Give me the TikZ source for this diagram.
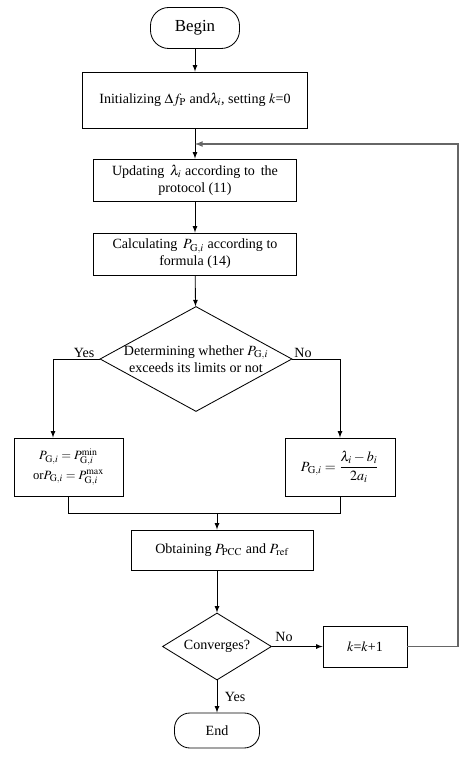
\documentclass[tikz,border=0pt]{standalone}
\usepackage{amsmath}
\usepackage{mathptmx}
\usepackage{fontspec}
\setmainfont{Liberation Serif}
\usetikzlibrary{shapes.geometric}
\usetikzlibrary{arrows}

\begin{document}
\begin{tikzpicture}[x=0.025cm, y=-0.025cm, line width=0.6pt, >=latex]
  \useasboundingbox (0,0) rectangle (474,760);
  \node[draw, rounded corners=13pt, minimum width=2.225cm, minimum height=1.025cm, font=\large] (n1) at (195,28) {Begin};
  \node[draw, minimum width=5.625cm, minimum height=1.4cm] (n2) at (195,100) {Initializing $\Delta f_{\mathrm{P}}$ and$\lambda_i$, setting $k$=0};
  \node[draw, align=center, minimum width=5.075cm, minimum height=1.05cm] (n3) at (195,180) {Updating\, $\lambda_i$ according to\, the\\ protocol (11)};
  \node[draw, align=center, minimum width=5.075cm, minimum height=1.05cm] (n4) at (195,254) {Calculating\, $P_{\mathrm{G},i}$ according to\\ formula (14)};

  \node[diamond, draw, minimum width=4.8cm, minimum height=2.625cm, inner sep=0pt] (n5) at (196,359) {};
  \node[align=center] (n5t) at (196,359) {Determining whether $P_{\mathrm{G},i}$\\ exceeds its limits or not};

  \node[draw, align=center, minimum width=2.725cm, minimum height=1.45cm, font=\small] (n6) at (68.5,467) {$P_{\mathrm{G},i}=P_{\mathrm{G},i}^{\min}$\\[3pt] or$P_{\mathrm{G},i}=P_{\mathrm{G},i}^{\max}$};
  \node[draw, minimum width=2.75cm, minimum height=1.45cm] (n7) at (340,467) {$P_{\mathrm{G},i}=\dfrac{\lambda_i-b_i}{2a_i}$};

  \node[draw, minimum width=4.55cm, minimum height=1.0cm] (n8) at (222,550) {Obtaining $P_{\mathrm{PCC}}$ and $P_{\mathrm{ref}}$};
  \node[diamond, draw, minimum width=2.725cm, minimum height=1.675cm, inner sep=0pt] (n9) at (217,646.5) {};
  \node (n9t) at (217,646.5) {Converges?};
  \node[draw, minimum width=2.1cm, minimum height=1.025cm] (n10) at (365,646.5) {$k$=$k$+1};
  \node[draw, rounded corners=11pt, minimum width=2.125cm, minimum height=0.875cm] (n11) at (217,730.5) {End};

  \coordinate (c1) at (53,359);
  \coordinate (c2) at (217,513);
  \coordinate (c3) at (458,144);

  \node (y1) at (84,353) {Yes};
  \node (o1) at (303,353) {No};
  \node (o2) at (284,637) {No};
  \node (y2) at (235,697) {Yes};

  \foreach \from/\to in {n1/n2, n2/n3, n3/n4, n4/n5, n9/n10, n9/n11}
   \draw[->] (\from) -- (\to);
  \draw[->] (n5.west) -- (c1) -- (c1 |- n6.north);
  \draw[->] (n5.east) -| (n7.north);
  \draw (n6.south) -- (n6.south |- c2) -- (n7.south |- c2) -- (n7.south);
  \draw[->] (c2) -- (c2 |- n8.north);
  \draw[->] (n9.north |- n8.south) -- (n9.north);
  \draw[->, gray!80!black, line width=0.9pt] (n10.east) -| (c3) -- (c3 -| n2);
\end{tikzpicture}
\end{document}
